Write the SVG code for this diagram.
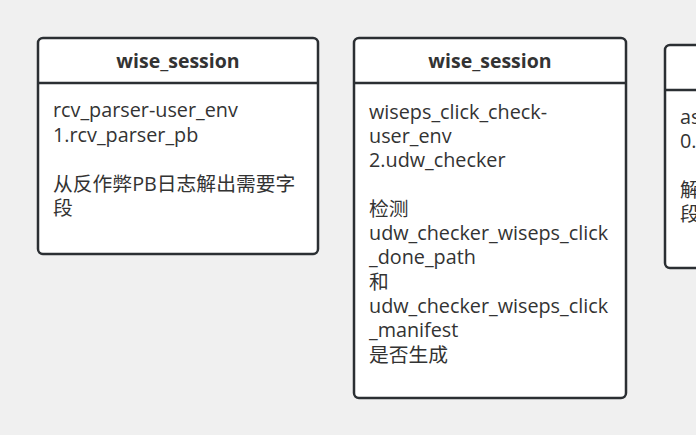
<svg xmlns="http://www.w3.org/2000/svg" width="696" height="435" viewBox="0 0 696 435">
<style>
.box{fill:#fff;stroke:#2b2f33;stroke-width:2.5}
.sep{stroke:#2b2f33;stroke-width:2.5}
.t{font-family:"Open Sans","Noto Sans CJK SC",sans-serif;font-size:19.8px;fill:#333}
.h{font-family:"Open Sans","Noto Sans CJK SC",sans-serif;font-size:19.5px;font-weight:bold;fill:#333;text-anchor:middle}
</style>
<rect width="696" height="435" fill="#f0f0f0"/>
<g id="connectors"/>
<g id="node1">
<rect class="box" x="38" y="38" width="280" height="216" rx="5"/>
<line class="sep" x1="38" y1="83" x2="318" y2="83"/>
<text class="h" x="178" y="68">wise_session</text>
<text class="t" x="53" y="117">rcv_parser-user_env</text>
<text class="t" x="53" y="142">1.rcv_parser_pb</text>
<text class="t" x="53" y="191">从反作弊PB日志解出需要字</text>
<text class="t" x="53" y="215">段</text>
</g>
<g id="node2">
<rect class="box" x="354" y="38" width="272" height="360" rx="5"/>
<line class="sep" x1="354" y1="83" x2="626" y2="83"/>
<text class="h" x="490" y="68">wise_session</text>
<text class="t" x="369" y="119">wiseps_click_check-</text>
<text class="t" x="369" y="143">user_env</text>
<text class="t" x="369" y="167">2.udw_checker</text>
<text class="t" x="369" y="216">检测</text>
<text class="t" x="369" y="240">udw_checker_wiseps_click</text>
<text class="t" x="369" y="264">_done_path</text>
<text class="t" x="369" y="289">和</text>
<text class="t" x="369" y="313">udw_checker_wiseps_click</text>
<text class="t" x="369" y="337">_manifest</text>
<text class="t" x="369" y="362">是否生成</text>
</g>
<g id="node3">
<rect class="box" x="665" y="45" width="280" height="223" rx="5"/>
<line class="sep" x1="665" y1="90" x2="945" y2="90"/>
<text class="t" x="680" y="124">as</text>
<text class="t" x="680" y="148">0.</text>
<text class="t" x="680" y="197">解</text>
<text class="t" x="680" y="221">段</text>
</g>
</svg>
